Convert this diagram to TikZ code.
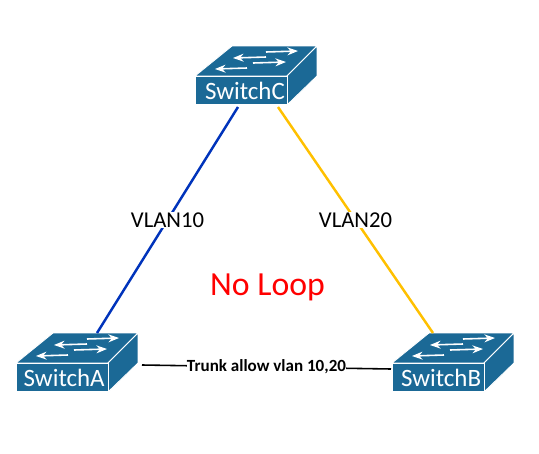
\documentclass[tikz,border=0pt]{standalone}
\usepackage{fontspec}
\usetikzlibrary{arrows.meta}
\setmainfont{Carlito}
\definecolor{switchblue}{RGB}{27,105,150}
\definecolor{vlanblue}{RGB}{0,51,187}
\definecolor{vlanyellow}{RGB}{255,192,0}
\tikzset{
  switchface/.style={fill=switchblue, draw=white, line width=0.5pt},
  switchfront/.style={switchface, anchor=north west, inner sep=0pt, minimum width=1.84cm, minimum height=0.57cm, text=white, font=\fontsize{14.2}{15}\selectfont},
  switcharrow/.style={white, line width=0.9pt, -{Stealth[length=6pt,width=4.5pt]}},
  vlanlabel/.style={fill=white, inner sep=0.5pt, font=\fontsize{12.9}{13}\selectfont},
  pics/switchbody/.style={code={
    % top and side, origin at the front face's top left
    \fill[switchface] (0,0) -- (37,-30) -- (122,-30) -- (92,0) -- cycle;
    \fill[switchface] (92,0) -- (122,-30) -- (122,0) -- (92,29) -- cycle;
    \draw[switcharrow] (71,-19) -- (38,-18);
    \draw[switcharrow] (71,-24) -- (103,-25);
    \draw[switcharrow] (58,-13) -- (91,-14);
    \draw[switcharrow] (52,-8) -- (20,-7);
  }}
}
\begin{document}
\begin{tikzpicture}[x=0.02cm, y=-0.02cm]
  \useasboundingbox (0,0) rectangle (539,454);

  % Switches
  \pic at (195,76) {switchbody};
  \pic at (16,363) {switchbody};
  \pic at (392,363) {switchbody};
  \node (switchC) at (195,76) [switchfront] {\kern4pt SwitchC};
  \node (switchA) at (16,363) [switchfront] {\kern2pt SwitchA};
  \node (switchB) at (392,363) [switchfront] {\kern3pt SwitchB};

  % Line ends
  \coordinate (portCA) at (238,107);
  \coordinate (portCB) at (278,107);
  \coordinate (portAC) at (97,333);
  \coordinate (portBC) at (433,333);
  \coordinate (portAB) at (142,365);
  \coordinate (portBA) at (391,369);

  % Links
  \draw[vlanblue, line width=1.4pt] (portCA) -- node[vlanlabel, text=black] (vlanA) {VLAN10} (portAC);
  \draw[vlanyellow, line width=1.4pt] (portCB) -- node[vlanlabel, text=black] (vlanB) {VLAN20} (portBC);
  \draw[black, line width=0.9pt] (portAB) -- node[fill=white, inner sep=0pt, font=\fontsize{9.7}{10}\selectfont\bfseries] (trunk) {Trunk allow vlan 10,20} (portBA);

  \node (noloop) at (267.5,287) [text=red, font=\fontsize{19.2}{20}\selectfont] {No Loop};
\end{tikzpicture}
\end{document}
